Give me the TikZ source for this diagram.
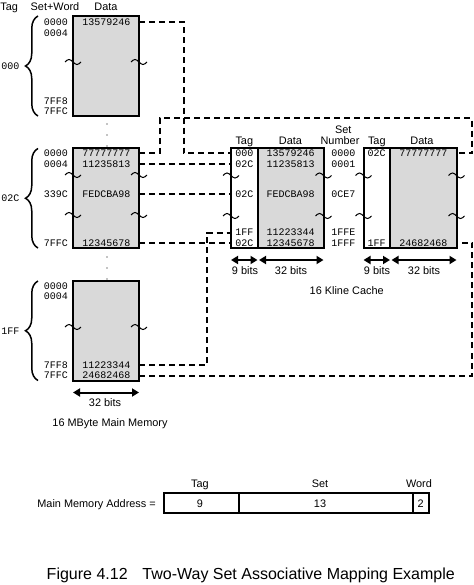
\documentclass[tikz,border=0pt]{standalone}
\usepackage{fontspec}
\setmainfont{Liberation Sans}
\setmonofont{Liberation Mono}
\usetikzlibrary{arrows.meta,decorations.pathreplacing}
\tikzset{
	memblock/.style={draw,line width=2bp,fill=black!15,minimum width=66bp,minimum height=99.5bp,inner sep=0,outer sep=0},
	tagblock/.style={draw,line width=2bp,fill=white,minimum width=26.5bp,minimum height=99.5bp,inner sep=0,outer sep=0},
	field/.style={draw,line width=2bp,minimum height=20bp,inner sep=0,outer sep=0},
	hex/.style={font=\ttfamily\fontsize{10bp}{12bp}\selectfont,inner sep=0},
	lbl/.style={font=\fontsize{10.9bp}{13bp}\selectfont,inner sep=0,anchor=base},
	link/.style={line width=2bp,dash pattern=on 6bp off 4bp},
	wave/.style={line width=1bp},
	span/.style={line width=2bp,<->,>={Triangle[length=7bp,width=8bp]}},
	brc/.style={line width=1.5bp,decorate,decoration={brace,amplitude=12.5bp}}
}
\begin{document}
\begin{tikzpicture}[x=1bp,y=-1bp]
	\useasboundingbox (0,0) rectangle (474,585);
	% main memory
	\node[lbl] (hTag) at (9.2,10.5) {Tag};
	\node[lbl] (hSW) at (55,10.5) {Set+Word};
	\node[lbl] (hData) at (106,10.5) {Data};
	\node[memblock,minimum height=100bp] (mem1) at (106,66) {};
	\node[memblock] (mem2) at (106,198.25) {};
	\node[memblock] (mem3) at (106,330.75) {};
	
	\draw[brc] (38,116) -- (38,16);
	\draw[brc] (38,248) -- (38,148.5);
	\draw[brc] (38,380.5) -- (38,281);
	\node[hex,anchor=east] (tg1) at (19.5,66) {000};
	\node[hex,anchor=east] (tg2) at (19.5,198.3) {02C};
	\node[hex,anchor=east] (tg3) at (19.5,330.8) {1FF};
	
	\foreach \y/\a [count=\i] in {22.5/0000,33/0004,101/7FF8,111.5/7FFC}
		\node[hex] (a1\i) at (56,\y) {\a};
	\foreach \y/\a [count=\i] in {153.5/0000,164/0004,194/339C,243/7FFC}
		\node[hex] (a2\i) at (56,\y) {\a};
	\foreach \y/\a [count=\i] in {286/0000,296.5/0004,365/7FF8,375.5/7FFC}
		\node[hex] (a3\i) at (56,\y) {\a};
	
	\node[hex] (m1d0) at (106.5,22.5) {13579246};
	\foreach \y/\d [count=\i from 0] in {153.5/77777777,164/11235813,194/FEDCBA98,243/12345678}
		\node[hex] (m2d\i) at (106.5,\y) {\d};
	\node[hex] (m3d2) at (106.5,365) {11223344};
	\node[hex] (m3d3) at (106.5,375.5) {24682468};
	
	\foreach \y in {124,135,146,257,268,279}{% dots
		\fill (107,\y) circle (0.7bp);
	}
	
	% cache
	\node[tagblock] (ct1) at (244.25,198.25) {};
	\node[memblock] (cd1) at (290.5,198.25) {};
	\node[tagblock] (ct2) at (376.75,198.25) {};
	\node[memblock,minimum width=66.5bp] (cd2) at (423.25,198.25) {};
	
	\node[lbl] (cTag1) at (244.3,144.7) {Tag};
	\node[lbl] (cData1) at (290.5,144.7) {Data};
	\node[lbl] (cSet) at (343.3,134) {Set};
	\node[lbl] (cNum) at (340,144.7) {Number};
	\node[lbl] (cTag2) at (376.8,144.7) {Tag};
	\node[lbl] (cData2) at (422,144.7) {Data};
	
	\foreach \y/\t/\d/\s [count=\i from 0] in {153.5/000/13579246/0000,164/02C/11235813/0001,194/02C/FEDCBA98/0CE7,232.5/1FF/11223344/1FFE,243/02C/12345678/1FFF}{
		\node[hex] (ct1r\i) at (244.3,\y) {\t};
		\node[hex] (cd1r\i) at (290.5,\y) {\d};
		\node[hex] (s\i) at (343.3,\y) {\s};
	}
	\node[hex] (ct2r0) at (376.7,153.5) {02C};
	\node[hex] (cd2r0) at (423.3,153.5) {77777777};
	\node[hex] (ct2r4) at (376.7,243) {1FF};
	\node[hex] (cd2r4) at (423.3,243) {24682468};
	
	\foreach \x/\y in {73/62,139/62,73/175,139/175,73/215,139/215,73/327,139/327,
		231/175.5,323.5/175.5,363.5/175.5,456.5/175.5,231/216,323.5/216,363.5/216,456.5/216}{% breaks
		\draw[wave] (\x-8,\y) sin (\x-4,\y-2.5) cos (\x,\y) sin (\x+4,\y+2.5) cos (\x+8,\y);
	}
	
	\draw[span] ([yshift=-12bp]ct1.south west) -- ([yshift=-12bp]ct1.south east);
	\draw[span] ([yshift=-12bp,xshift=1.5bp]cd1.south west) -- ([yshift=-12bp]cd1.south east);
	\draw[span] ([yshift=-12bp]ct2.south west) -- ([yshift=-12bp]ct2.south east);
	\draw[span] ([yshift=-12bp,xshift=1.5bp]cd2.south west) -- ([yshift=-12bp]cd2.south east);
	\node[lbl] (w1) at (245,274.3) {9 bits};
	\node[lbl] (w2) at (291,274.3) {32 bits};
	\node[lbl] (w3) at (377,274.3) {9 bits};
	\node[lbl] (w4) at (424,274.3) {32 bits};
	\node[lbl] (cache) at (346.7,294.3) {16 Kline Cache};
	
	\draw[span] ([yshift=-12bp]mem3.south west) -- ([yshift=-12bp]mem3.south east);
	\node[lbl] (w0) at (105,406.7) {32 bits};
	\node[lbl] (mainmem) at (110,426) {16 MByte Main Memory};
	
	% mapping
	\draw[link] (mem1.east |- m1d0) -- ++(45,0) |- (ct1.west |- s0);
	\draw[link] (mem2.east |- m2d0) -- ++(21,0) |- ++(312,-35) |- (cd2.east |- s0);
	\draw[link] (mem2.east |- m2d1) -- (ct1.west |- s1);
	\draw[link] (mem2.east |- m2d2) -- (ct1.west |- s2);
	\draw[link] (mem2.east |- m2d3) -- (ct1.west |- s4);
	\draw[link] (mem3.east |- m3d2) -- ++(68,0) |- (ct1.west |- s3);
	\draw[link] (mem3.east |- m3d3) -- ++(333,0) |- (cd2.east |- s4);
	
	% address
	\node[lbl] (adTag) at (200,487.2) {Tag};
	\node[lbl] (adSet) at (320,487.2) {Set};
	\node[lbl] (adWord) at (419,487.2) {Word};
	\node[lbl,anchor=base east] (adLbl) at (156,507.2) {Main Memory Address =};
	\node[field,minimum width=74.7bp] (fTag) at (201.65,502.7) {};
	\node[field,minimum width=173.7bp] (fSet) at (325.85,502.7) {};
	\node[field,minimum width=16.6bp] (fWord) at (421,502.7) {};
	\node[lbl] (vTag) at (200,507.2) {9};
	\node[lbl] (vSet) at (320,507.2) {13};
	\node[lbl] (vWord) at (420.7,507.2) {2};
	
	\node[lbl,font=\fontsize{16bp}{19bp}\selectfont] (caption) at (250.8,579.3) {Figure 4.12\hspace{10.3bp} Two-Way Set Associative Mapping Example};
\end{tikzpicture}
\end{document}
